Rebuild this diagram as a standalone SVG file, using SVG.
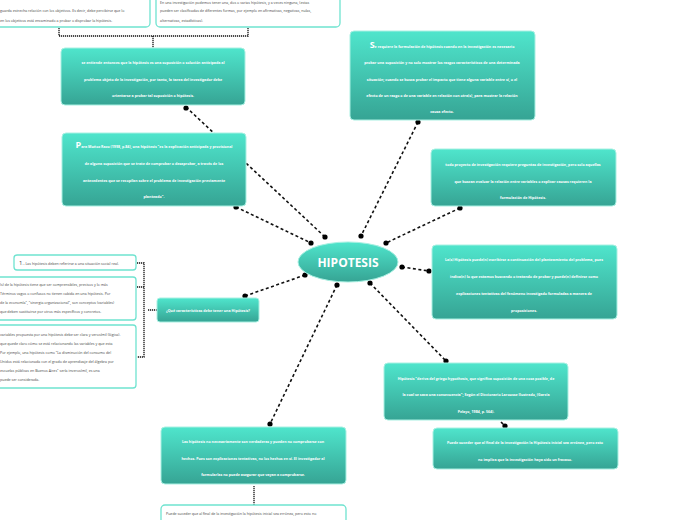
<svg xmlns="http://www.w3.org/2000/svg" width="696" height="520" viewBox="0 0 696 520">
<style>
.t{fill:url(#g);stroke:#a8f0e2;stroke-width:1}
.w{fill:#fff;stroke:#6fe3d0;stroke-width:1.3}
.tt{font-family:"Open Sans",sans-serif;font-size:3.6px;fill:#fff;font-weight:bold;text-anchor:middle}
.dt{font-family:"Open Sans",sans-serif;font-size:3.6px;fill:#444}
.c{fill:none;stroke:#111;stroke-width:1.6;stroke-dasharray:3,2.5}
.b{fill:none;stroke:#111;stroke-width:1.3;stroke-dasharray:1.2,0.8}
.big{font-size:9px}
</style>
<defs>
<linearGradient id="g" x1="0" y1="0" x2="0" y2="1"><stop offset="0" stop-color="#4fe5cc"/><stop offset="1" stop-color="#36a494"/></linearGradient>
</defs>
<g id="connectors">
<path class="b" d="M59,28 V36 H248 V28 M153,36 V48"/>
<path class="c" d="M186,107 L325,237"/>
<path class="c" d="M236,207 L311,243"/>
<path class="c" d="M418,122 L361,236"/>
<path class="c" d="M460,208 L386,243"/>
<path class="c" d="M402,267 L429,271"/>
<path class="c" d="M370,283 L446,361"/>
<path class="c" d="M337,285 L270,424"/>
<path class="c" d="M305,275 L245,296"/>
<path class="b" d="M254,486 V505"/>
<path class="c" d="M501,422 L505,426"/>
<path class="b" d="M157,310 H148 M137,263 H144 V357 H137 M137,287 H144"/>
<g fill="#000">
<circle cx="186" cy="108" r="2.6"/><circle cx="325" cy="237" r="2.6"/>
<circle cx="236" cy="207" r="2.6"/><circle cx="311" cy="243" r="2.6"/>
<circle cx="418" cy="122" r="2.6"/><circle cx="361" cy="236" r="2.6"/>
<circle cx="460" cy="208" r="2.6"/><circle cx="386" cy="243" r="2.6"/>
<circle cx="402" cy="267" r="2.6"/><circle cx="429" cy="271" r="2.6"/>
<circle cx="370" cy="283" r="2.6"/><circle cx="446" cy="361" r="2.6"/>
<circle cx="337" cy="285" r="2.6"/><circle cx="270" cy="424" r="2.6"/>
<circle cx="305" cy="275" r="2.6"/><circle cx="245" cy="296" r="2.6"/>
<circle cx="505" cy="426" r="2.6"/>
</g>
</g>
<g id="center">
<ellipse cx="348" cy="262" rx="50" ry="20" fill="url(#g)" stroke="#a8f0e2"/>
<text x="348" y="266.5" style="font-family:'Open Sans',sans-serif;font-size:12px;font-weight:bold;fill:#fff;text-anchor:middle">HIPOTESIS</text>
</g>
<g id="n-topleft">
<rect class="w" x="-10" y="-10" width="160" height="37" rx="4"/>
<text class="dt" x="0" y="12">guarda estrecha relación con los objetivos. Es decir, debe percibirse que lo</text>
<text class="dt" x="0" y="22">en los objetivos está encaminado a probar o disprobar la hipótesis.</text>
</g>
<g id="n-topmid">
<rect class="w" x="156" y="-10" width="184" height="37" rx="4"/>
<text class="dt" x="160" y="3.5">En una investigación podemos tener una, dos o varias hipótesis, y a veces ninguna, (estas</text>
<text class="dt" x="160" y="12">pueden ser clasificadas de diferentes formas, por ejemplo en afirmativas, negativas, nulas,</text>
<text class="dt" x="160" y="22">alternativas, estadísticas).</text>
</g>
<g id="n-entiende">
<rect class="t" x="61" y="48" width="184" height="57" rx="4"/>
<text class="tt" x="153" y="64">se entiende entonces que la hipótesis es una suposición o solución anticipada al</text>
<text class="tt" x="153" y="81">problema objeto de la investigación, por tanto, la tarea del investigador debe</text>
<text class="tt" x="153" y="97">orientarse a probar tal suposición o hipótesis.</text>
</g>
<g id="n-para">
<rect class="t" x="62" y="133" width="184" height="73" rx="4"/>
<text class="tt" x="154" y="148"><tspan class="big">P</tspan>ara Muñoz Razo (1998, p.84), una hipótesis "es la explicación anticipada y provisional</text>
<text class="tt" x="154" y="165">de alguna suposición que se trate de comprobar o desaprobar, a través de los</text>
<text class="tt" x="154" y="182">antecedentes que se recopilan sobre el problema de investigación previamente</text>
<text class="tt" x="154" y="198">planteado".</text>
</g>
<g id="n-se">
<rect class="t" x="350" y="31" width="185" height="89" rx="4"/>
<text class="tt" x="442" y="48"><tspan class="big">S</tspan>e requiere la formulación de hipótesis cuando en la investigación es necesario</text>
<text class="tt" x="442" y="64">probar una suposición y no solo mostrar los rasgos característicos de una determinada</text>
<text class="tt" x="442" y="81">situación; cuando se busca probar el impacto que tiene alguna variable entre sí, o el</text>
<text class="tt" x="442" y="97">efecto de un rasgo o de una variable en relación con otra(s), para mostrar la relación</text>
<text class="tt" x="442" y="113">causa efecto.</text>
</g>
<g id="n-todo">
<rect class="t" x="431" y="149" width="185" height="57" rx="4"/>
<text class="tt" x="523" y="166">todo proyecto de investigación requiere preguntas de investigación, pero solo aquellas</text>
<text class="tt" x="523" y="183">que buscan evaluar la relación entre variables o explicar causas requieren la</text>
<text class="tt" x="523" y="199">formulación de Hipótesis.</text>
</g>
<g id="n-las">
<rect class="t" x="432" y="245" width="185" height="74" rx="4"/>
<text class="tt" x="524" y="261">La(s) Hipótesis puede(n) escribirse a continuación del planteamiento del problema, pues</text>
<text class="tt" x="524" y="278">indica(n) lo que estamos buscando o tratando de probar y puede(n) definirse como</text>
<text class="tt" x="524" y="295">explicaciones tentativas del fenómeno investigado formuladas a manera de</text>
<text class="tt" x="524" y="312">proposiciones.</text>
</g>
<g id="n-hip">
<rect class="t" x="384" y="363" width="184" height="57" rx="4"/>
<text class="tt" x="476" y="380">Hipótesis "deriva del griego hypothesis, que significa suposición de una cosa posible, de</text>
<text class="tt" x="476" y="396">la cual se saca una consecuencia"; Según el Diccionario Larousse Ilustrado, (García</text>
<text class="tt" x="476" y="413">Pelayo, 1984, p. 564).</text>
</g>
<g id="n-puede-r">
<rect class="t" x="433" y="428" width="185" height="41" rx="4"/>
<text class="tt" x="525" y="444">Puede suceder que al final de la investigación la Hipótesis inicial sea errónea, pero esto</text>
<text class="tt" x="525" y="461">no implica que la investigación haya sido un fracaso.</text>
</g>
<g id="n-no">
<rect class="t" x="161" y="427" width="185" height="57" rx="4"/>
<text class="tt" x="253" y="443">Las hipótesis no necesariamente son verdaderas y pueden no comprobarse con</text>
<text class="tt" x="253" y="460">hechos. Pues son explicaciones tentativas, no los hechos en sí. El investigador al</text>
<text class="tt" x="253" y="476">formularlas no puede asegurar que vayan a comprobarse.</text>
</g>
<g id="n-puede-b">
<rect class="w" x="161" y="505" width="185" height="25" rx="4"/>
<text class="dt" x="166" y="515">Puede suceder que al final de la investigación la hipótesis inicial sea errónea, pero esto no</text>
</g>
<g id="n-q">
<rect class="t" x="157" y="298" width="102" height="24" rx="3"/>
<text class="tt" x="208" y="312">¿Qué características debe tener una Hipótesis?</text>
</g>
<g id="n-c1">
<rect class="w" x="14" y="255" width="122" height="15" rx="3"/>
<text class="dt" x="19" y="265"><tspan font-size="6">1</tspan>.- Las hipótesis deben referirse a una situación social real.</text>
</g>
<g id="n-c2">
<rect class="w" x="-10" y="277" width="146" height="43" rx="3"/>
<text class="dt" x="0" y="286">(s) de la hipótesis tiene que ser comprensibles, precisos y lo más</text>
<text class="dt" x="0" y="295">Términos vagos o confusos no tienen cabida en una hipótesis. Por</text>
<text class="dt" x="0" y="304">de la economía", "sinergia organizacional", son conceptos (variables)</text>
<text class="dt" x="0" y="313">que deben sustituirse por otros más específicos y concretos.</text>
</g>
<g id="n-c3">
<rect class="w" x="-10" y="325" width="146" height="63" rx="3"/>
<text class="dt" x="0" y="336">variables propuesta por una hipótesis debe ser clara y verosímil (lógica).</text>
<text class="dt" x="0" y="345">que quede claro cómo se está relacionando las variables y que esta</text>
<text class="dt" x="0" y="354">Por ejemplo, una hipótesis como "La disminución del consumo del</text>
<text class="dt" x="0" y="363">Unidos está relacionada con el grado de aprendizaje del álgebra por</text>
<text class="dt" x="0" y="372">escuelas públicas en Buenos Aires" sería inverosímil, es una</text>
<text class="dt" x="0" y="381">puede ser considerada.</text>
</g>
</svg>
